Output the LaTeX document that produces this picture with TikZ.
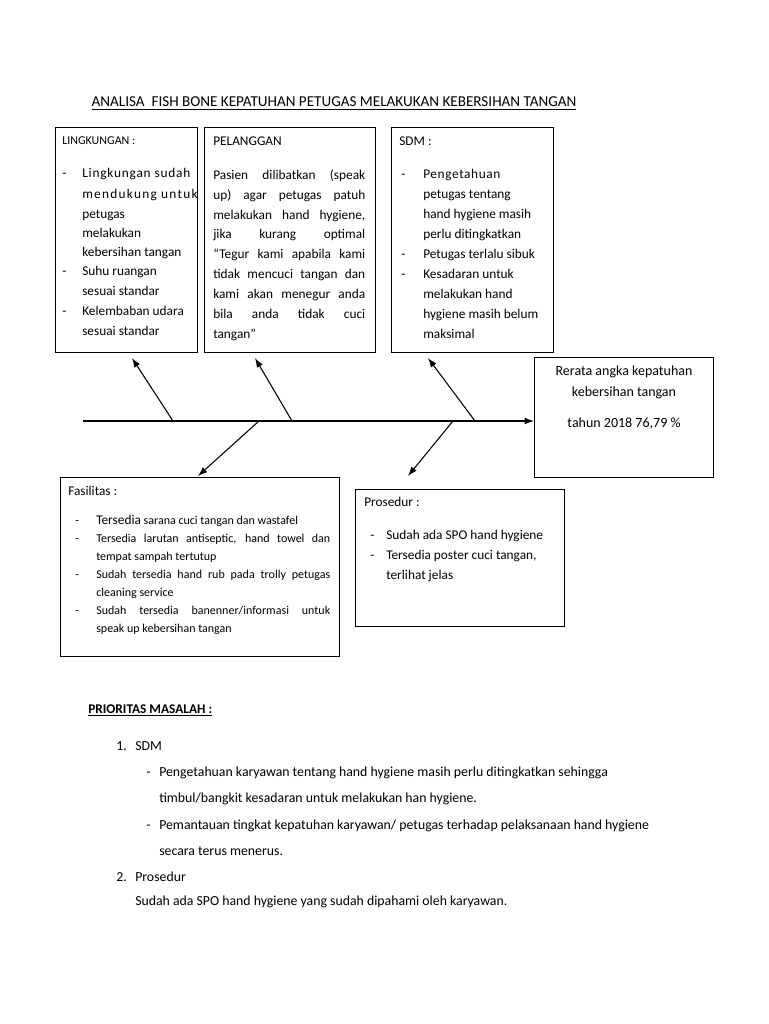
\documentclass[tikz,border=0pt]{standalone}
\usepackage{fontspec}
\setmainfont{Carlito}
\usetikzlibrary{arrows.meta}
\newcommand{\lsp}[2]{{\addfontfeature{LetterSpace=#1}#2}}
\begin{document}
\begin{tikzpicture}[x=0.75pt,y=-0.75pt,
  box/.style={draw=black, line width=0.8pt, inner sep=0, anchor=north west},
  t/.style={anchor=base west, inner sep=0, font=\fontsize{10}{12}\selectfont},
  tb/.style={anchor=base west, inner sep=0, font=\fontsize{10.35}{12}\selectfont},
  ts/.style={anchor=base west, inner sep=0, font=\fontsize{9}{11}\selectfont},
  tc/.style={anchor=base, inner sep=0, font=\fontsize{10.5}{12}\selectfont},
  arr/.style={line width=0.8pt, -{Latex[length=7pt,width=5pt]}}]
\fill[white] (0,0) rectangle (768,1024);
\useasboundingbox (0,0) rectangle (768,1024);

% title
\node[anchor=base, inner sep=0, font=\fontsize{11.35}{13}\selectfont] (title) at (334,107) {\underline{ANALISA\ \ FISH BONE KEPATUHAN PETUGAS MELAKUKAN KEBERSIHAN TANGAN}};

% boxes
\node[box, minimum width=106.5pt, minimum height=168.75pt] (ling) at (55,127) {};
\node[box, minimum width=128.25pt, minimum height=168.75pt] (pel) at (204,127) {};
\node[box, minimum width=121.5pt, minimum height=168.75pt] (sdm) at (391,127) {};
\node[box, minimum width=134.25pt, minimum height=90pt] (rer) at (534,357) {};
\node[box, minimum width=209.25pt, minimum height=134.25pt] (fas) at (60,477) {};
\node[box, minimum width=156.75pt, minimum height=102.75pt] (pro) at (355,489) {};

% Lingkungan
\node[ts] (l0) at (62,144) {LINGKUNGAN :};
\node[t] (ld1) at (62,177) {-};
\node[t] (l1) at (82,177) {\lsp{6}{Lingkungan sudah}};
\node[t] (l2) at (82,198) {\lsp{9.5}{mendukung untuk}};
\node[t] (l3) at (82,218) {petugas};
\node[t] (l4) at (82,237) {melakukan};
\node[t] (l5) at (82,256) {kebersihan tangan};
\node[t] (ld2) at (62,275) {-};
\node[t] (l6) at (82,275) {Suhu ruangan};
\node[t] (l7) at (82,295) {sesuai standar};
\node[t] (ld3) at (62,315) {-};
\node[t] (l8) at (82,315) {Kelembaban udara};
\node[t] (l9) at (82,335) {sesuai standar};

% Pelanggan
\node[t] (p0) at (213,145) {PELANGGAN};
\node[t] (p1) at (213,179) {\makebox[114pt][s]{Pasien dilibatkan (speak}};
\node[t] (p2) at (213,199) {\makebox[114pt][s]{up) agar petugas patuh}};
\node[t] (p3) at (213,219) {\makebox[114pt][s]{melakukan hand hygiene,}};
\node[t] (p4) at (213,238) {\makebox[114pt][s]{jika kurang optimal}};
\node[t] (p5) at (213,258) {\makebox[114pt][s]{“Tegur kami apabila kami}};
\node[t] (p6) at (213,278) {\makebox[114pt][s]{tidak mencuci tangan dan}};
\node[t] (p7) at (213,298) {\makebox[114pt][s]{kami akan menegur anda}};
\node[t] (p8) at (213,318) {\makebox[114pt][s]{bila anda tidak cuci}};
\node[t] (p9) at (213,338) {tangan”};

% SDM
\node[t] (s0) at (399,145) {SDM :};
\node[t] (sd1) at (401,178) {-};
\node[t] (s1) at (423,178) {\lsp{4.5}{Pengetahuan}};
\node[t] (s2) at (423,198) {petugas tentang};
\node[t] (s3) at (423,218) {hand hygiene masih};
\node[t] (s4) at (423,238) {perlu ditingkatkan};
\node[t] (sd2) at (401,258) {-};
\node[t] (s5) at (423,258) {Petugas terlalu sibuk};
\node[t] (sd3) at (401,278) {-};
\node[t] (s6) at (423,278) {Kesadaran untuk};
\node[t] (s7) at (423,298) {melakukan hand};
\node[t] (s8) at (423,318) {hygiene masih belum};
\node[t] (s9) at (423,338) {maksimal};

% Rerata
\node[tc] (r1) at (624,375) {Rerata angka kepatuhan};
\node[tc] (r2) at (624,396) {kebersihan tangan};
\node[tc] (r3) at (624,427) {tahun 2018 76,79 \%};

% Fasilitas
\node[t] (f0) at (68,495) {Fasilitas :};
\node[ts] (fd1) at (75,524) {-};
\node[ts] (f1) at (96,524) {{\fontsize{10}{12}\selectfont Tersedia} sarana cuci tangan dan wastafel};
\node[ts] (fd2) at (75,542) {-};
\node[ts] (f2) at (96,542) {\makebox[175.5pt][s]{Tersedia larutan antiseptic, hand towel dan}};
\node[ts] (f3) at (96,560) {tempat sampah tertutup};
\node[ts] (fd3) at (75,578) {-};
\node[ts] (f4) at (96,578) {\makebox[175.5pt][s]{Sudah tersedia hand rub pada trolly petugas}};
\node[ts] (f5) at (96,596) {cleaning service};
\node[ts] (fd4) at (75,614) {-};
\node[ts] (f6) at (96,614) {\makebox[175.5pt][s]{Sudah tersedia banenner/informasi untuk}};
\node[ts] (f7) at (96,632) {speak up kebersihan tangan};

% Prosedur
\node[t] (r0) at (364,506) {Prosedur :};
\node[t] (rd1) at (370,539) {-};
\node[t] (rp1) at (386,539) {Sudah ada SPO hand hygiene};
\node[t] (rd2) at (370,559) {-};
\node[t] (rp2) at (386,559) {Tersedia poster cuci tangan,};
\node[t] (rp3) at (386,579) {terlihat jelas};

% Prioritas
\node[t] (b0) at (88,713) {\textbf{\underline{PRIORITAS MASALAH :}}};
\node[tb] (b1n) at (116,750) {1.};
\node[tb] (b1) at (135,750) {SDM};
\node[tb] (bd1) at (146,776) {-};
\node[tb] (b2) at (159,776) {Pengetahuan karyawan tentang hand hygiene masih perlu ditingkatkan sehingga};
\node[tb] (b3) at (159,802) {timbul/bangkit kesadaran untuk melakukan han hygiene.};
\node[tb] (bd2) at (146,829) {-};
\node[tb] (b4) at (159,829) {Pemantauan tingkat kepatuhan karyawan/ petugas terhadap pelaksanaan hand hygiene};
\node[tb] (b5) at (159,855) {secara terus menerus.};
\node[tb] (b6n) at (116,881) {2.};
\node[tb] (b6) at (135,881) {Prosedur};
\node[tb] (b7) at (135,905) {Sudah ada SPO hand hygiene yang sudah dipahami oleh karyawan.};

% spine and bones
\coordinate (sp0) at (83,421);
\coordinate (sp1) at (rer.west |- sp0);
\draw[arr] (sp0) -- (sp1);
\coordinate (a1) at (173,421); \coordinate (e1) at (132,358);
\coordinate (a2) at (292,421); \coordinate (e2) at (255,358);
\coordinate (a3) at (475,421); \coordinate (e3) at (428,358);
\coordinate (a4) at (259,421); \coordinate (e4) at (198,476);
\coordinate (a5) at (453,421); \coordinate (e5) at (408,476);
\draw[arr] (a1) -- (e1);
\draw[arr] (a2) -- (e2);
\draw[arr] (a3) -- (e3);
\draw[arr] (a4) -- (e4);
\draw[arr] (a5) -- (e5);
\end{tikzpicture}
\end{document}
